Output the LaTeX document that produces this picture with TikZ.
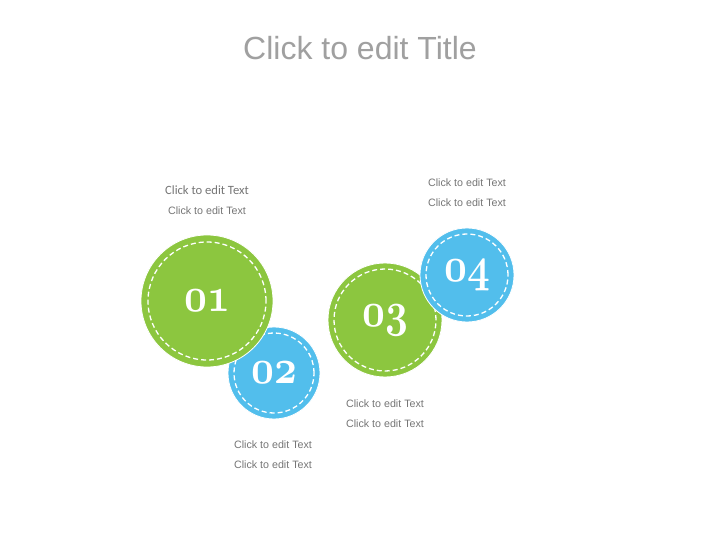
\documentclass[tikz,border=0pt]{standalone}
\usepackage{fontspec}
\setmainfont{Liberation Sans}
\newfontfamily\calib{Carlito}
\usepackage{xcolor}
\usepackage{graphicx}
\usepackage{tikz}

\definecolor{ballgreen}{RGB}{140,198,63}
\definecolor{ballblue}{RGB}{82,190,236}
\definecolor{textgray}{RGB}{118,118,118}
\definecolor{titlegray}{RGB}{160,160,160}
\newcommand{\ballnum}[1]{\scalebox{1.6}[1.95]{\fontencoding{OML}\fontfamily{cmm}\fontseries{b}\fontshape{it}\fontsize{24.88}{26}\selectfont #1}}

\begin{document}
\begin{tikzpicture}[x=1pt,y=-1pt,
                every node/.append style={inner sep=0pt},
                ball/.style={circle,draw=white,line width=0.8pt,minimum size=#1,text=white},
                greenball/.style={ball=#1,fill=ballgreen},
                blueball/.style={ball=#1,fill=ballblue},
                seam/.style={draw=white,line width=1.3pt,dash pattern=on 5pt off 3pt},
                small/.style={text=textgray,font=\fontsize{10.7}{12}\selectfont}]
                \fill [white] (0,0) rectangle (721,540);
                \useasboundingbox (0,0) rectangle (721,540);
                \node [text=titlegray,font=\fontsize{32}{36}\selectfont] (title) at (360,48) {Click to edit Title};
                % first pair
                \node [blueball=92pt] (b02) at (274,373) {\ballnum{02}};
                \draw [seam] (b02.center) circle (40pt);
                \node [greenball=132pt] (b01) at (207,301) {\ballnum{01}};
                \draw [seam] (b01.center) circle (59pt);
                % second pair
                \node [greenball=114pt] (b03) at (385,320) {\ballnum{03}};
                \draw [seam] (b03.center) circle (51pt);
                \node [blueball=94pt] (b04) at (467,275) {\ballnum{04}};
                \draw [seam] (b04.center) circle (41pt);
                % texts
                \node [small,font=\calib\fontsize{12.6}{14}\selectfont] (t01a) at (207,190) {Click to edit Text};
                \node [small] (t01b) at (207,211) {Click to edit Text};
                \node [small] (t02a) at (273,445) {Click to edit Text};
                \node [small] (t02b) at (273,465) {Click to edit Text};
                \node [small] (t03a) at (385,404) {Click to edit Text};
                \node [small] (t03b) at (385,424) {Click to edit Text};
                \node [small] (t04a) at (467,183) {Click to edit Text};
                \node [small] (t04b) at (467,203) {Click to edit Text};
\end{tikzpicture}
\end{document}
